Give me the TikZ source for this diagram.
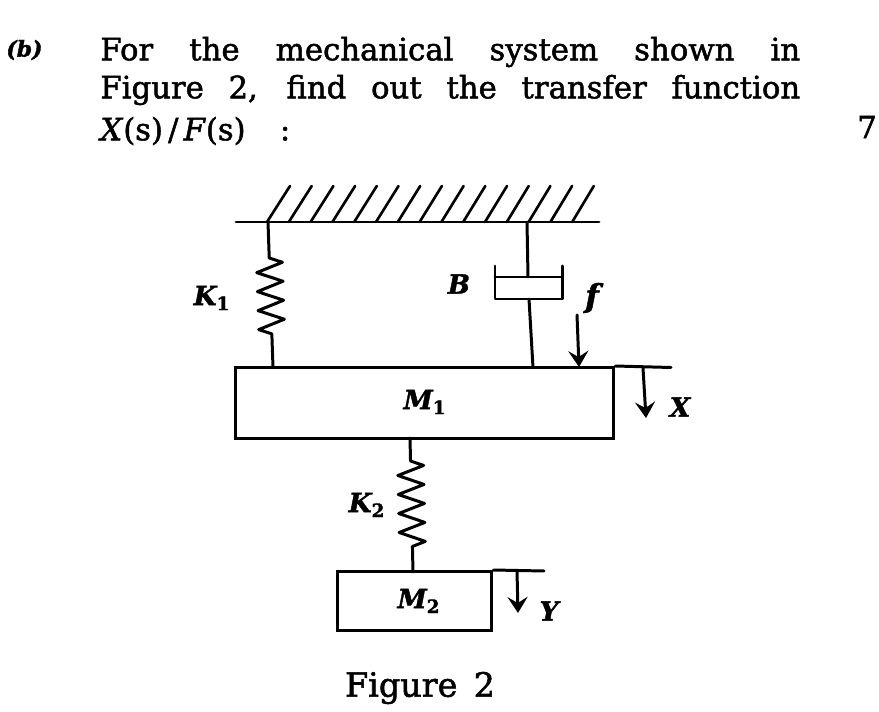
\documentclass[tikz,border=0pt]{standalone}
\usepackage{fontspec}
\usepackage{tikz}
\usetikzlibrary{arrows.meta}
\usetikzlibrary{decorations.pathmorphing}
\setmainfont[FakeBold=1.6]{DejaVu Serif}
\tikzset{
  wire/.style={line width=1.7pt,line cap=round,line join=round},
  springline/.style={wire,decorate,decoration={zigzag,segment length=0.38cm,amplitude=0.26cm,pre length=0.72cm,post length=0.5cm}},
  forcearrow/.style={wire,-{Stealth[inset=1.2mm,length=3.2mm,width=4mm]}},
  massbox/.style={draw,line width=1.7pt,inner sep=0pt},
  textline/.style={anchor=west,inner sep=0pt,font=\fontsize{17.5}{17.5}\selectfont},
  symbol/.style={inner sep=0pt,font=\fontsize{15}{15}\selectfont\bfseries\itshape}
}
\begin{document}
\begin{tikzpicture}[x=0.02cm,y=-0.02cm]
\useasboundingbox (0,0) rectangle (879,712);

% question text
\node[textline,font=\fontsize{12.5}{12.5}\selectfont\bfseries\itshape] (part) at (6,50) {(b)};
\node[textline] (line1) at (100,52) {\makebox[14cm][s]{For the mechanical system shown in}};
\node[textline] (line2) at (100,90) {\makebox[14cm][s]{Figure 2, find out the transfer function}};
\node[textline] (line3) at (100,131) {\makebox[3.8cm][s]{\textit{X}(s)\,/\,\textit{F}(s) :}};
\node[textline] (marks) at (857,127) {7};

% ceiling
\coordinate (ceilL) at (236,222);
\coordinate (ceilR) at (599,222);
\draw[wire] (ceilL)--(ceilR);
\foreach \i in {0,...,14}
  \draw[wire,line width=1.5pt] ({267+21.8*\i},222)--({290+21.7*\i},186);

% masses
\node[massbox,minimum width=7.58cm,minimum height=1.42cm] (M1) at (424.5,403) {};
\node[massbox,minimum width=3.1cm,minimum height=1.18cm] (M2) at (414.5,601) {};
\node[symbol] (M1lab) at (425,402) {M$_{\mathbf 1}$};
\node[symbol] (M2lab) at (419,601) {M$_{\mathbf 2}$};
\coordinate (M1end) at (671,367.5);
\coordinate (M2end) at (544,571);
\draw[wire] (M1.north east)--(M1end);
\draw[wire] (M2.north east)--(M2end);

% springs
\coordinate (k1top) at (268,222);
\coordinate (k1bot) at (273,367.5);
\coordinate (k2top) at (410,438);
\coordinate (k2bot) at (413,572);
\draw[springline] (k1top)--(k1bot);
\draw[springline,decoration={pre length=0.46cm,post length=0.5cm}] (k2top)--(k2bot);
\node[symbol] (K1) at (212,298) {K$_{\mathbf 1}$};
\node[symbol] (K2) at (367,505) {K$_{\mathbf 2}$};

% damper
\coordinate (btop) at (527,222);
\coordinate (bpiston) at (528,277);
\coordinate (brod) at (529,299);
\coordinate (bbot) at (533,367.5);
\coordinate (bpL) at (495,277);
\coordinate (bpR) at (562,277);
\draw[wire] (btop)--(bpiston);
\draw[wire] (bpL)--(bpR);
\draw[wire] (495,266)--(495,299)--(562,299)--(562,266);
\draw[wire] (brod)--(bbot);
\node[symbol] (B) at (459,284) {B};

% forces and displacements
\coordinate (ftop) at (577,315);
\coordinate (fbot) at (579,367);
\draw[forcearrow] (ftop)--(fbot);
\node[symbol,font=\fontsize{18}{18}\selectfont\bfseries\itshape] (f) at (592,298) {f};
\coordinate (xtop) at (643,368);
\coordinate (xbot) at (646,418);
\draw[forcearrow] (xtop)--(xbot);
\node[symbol] (X) at (680,407) {X};
\coordinate (ytop) at (517,571);
\coordinate (ybot) at (518,613);
\draw[forcearrow] (ytop)--(ybot);
\node[symbol] (Y) at (549,611) {Y};

\node[inner sep=0pt,font=\fontsize{19}{19}\selectfont] (caption) at (420,688) {\makebox[3cm][s]{Figure 2}};
\end{tikzpicture}
\end{document}
